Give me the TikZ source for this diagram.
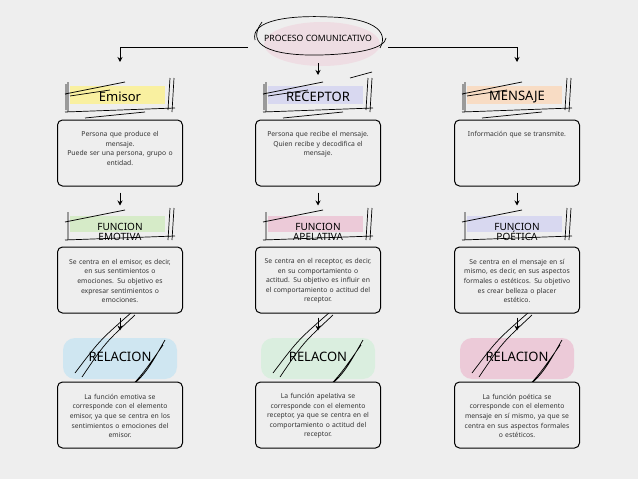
\documentclass[tikz,border=0pt]{standalone}
\usepackage{fontspec}
\setmainfont{Noto Sans}
\usetikzlibrary{arrows.meta}
\definecolor{bg}{HTML}{EEEEEE}
\definecolor{cYel}{HTML}{F9F0A0}
\definecolor{cLav}{HTML}{D8D8F0}
\definecolor{cPea}{HTML}{F8DCC4}
\definecolor{cGrn}{HTML}{D6EBC8}
\definecolor{cPnk}{HTML}{ECCAD8}
\definecolor{cBlu}{HTML}{CFE6F1}
\definecolor{cMnt}{HTML}{DAEEDF}
\definecolor{cTit}{HTML}{EEDDE3}
\tikzset{
 txtbox/.style={draw=black,line width=1pt,rounded corners=5pt,minimum width=125pt,minimum height=66pt,fill=bg},
 txt/.style={font=\fontsize{6.8}{9.6}\selectfont,align=center,text width=122pt,color=black!80},
 head/.style={font=\fontsize{13}{14}\selectfont},
 fhead/.style={font=\fontsize{10}{10.5}\selectfont,align=center},
 arr/.style={line width=0.9pt,-{Stealth[length=5pt,width=5pt]}},
 sk/.style={line width=0.7pt},
}
\begin{document}
\begin{tikzpicture}[x=1pt,y=-1pt]
\fill[bg] (0,0) rectangle (638,479);
\useasboundingbox (0,0) rectangle (638,479);
% title
\fill[cTit] (322,44) ellipse (58 and 22);
\draw[sk] (255,40) .. controls (250,20) and (290,15) .. (330,17) .. controls (370,18) and (390,30) .. (380,48);
\draw[sk] (262,22) .. controls (245,45) and (270,56) .. (320,55) .. controls (360,54) and (385,48) .. (386,38);
\draw[sk] (350,78)--(372,72);
\node[font=\fontsize{8.7}{9}\selectfont] (t) at (318,38) {PROCESO COMUNICATIVO};
\coordinate (tl) at (248,47); \coordinate (tr) at (388,47);
% columns
\foreach \x/\hc/\h/\fc/\f/\rc/\r/\i in {
 120/cYel/Emisor/cGrn/{FUNCION\\EMOTIVA}/cBlu/RELACION/e,
 318/cLav/RECEPTOR/cPnk/{FUNCION\\APELATIVA}/cMnt/RELACON/r,
 517/cPea/MENSAJE/cLav/{FUNCION\\POÉTICA}/cPnk/RELACION/m}{
 \fill[\hc] (\x-50,86) rectangle (\x+45,104);
 \draw[sk] (\x-52,82)--(\x-52,112) (\x-54,84)--(\x-54,110) (\x+50,78)--(\x+48,110) (\x+54,78)--(\x+52,112)
  (\x-55,94)--(\x+5,82) (\x-50,96)--(\x-10,90) (\x-55,112)--(\x+55,108) (\x-35,118)--(\x+25,112);
 \node[head] (h\i) at (\x,97) {\h};
 \fill[\fc] (\x-50,216) rectangle (\x+45,232);
 \draw[sk] (\x-52,212)--(\x-52,240) (\x+50,208)--(\x+48,240) (\x+54,208)--(\x+52,240)
  (\x-55,222)--(\x+5,210) (\x-55,240)--(\x+55,236);
 \node[fhead] (f\i) at (\x,232) {\f};
 \fill[\rc,rounded corners=12pt] (\x-57,338) rectangle (\x+57,379);
 \node[head] (r\i) at (\x,357) {\r};
 \draw[sk] (\x-45,373) .. controls (\x-20,340) .. (\x+12,312) (\x-38,377) .. controls (\x-15,343) .. (\x+15,315)
  (\x-4,400) .. controls (\x+25,375) .. (\x+45,340) (\x-8,405) .. controls (\x+20,378) .. (\x+43,345);
}
\node[txtbox] (be) at (120,153) {}; \node[txt,anchor=north] at (120,128) {Persona que produce el\\mensaje.\\Puede ser una persona, grupo o\\entidad.};
\node[txtbox] (br) at (318,153) {}; \node[txt,anchor=north] at (318,128) {Persona que recibe el mensaje.\\Quien recibe y decodifica el\\mensaje.};
\node[txtbox] (bm) at (517,153) {}; \node[txt,anchor=north] at (517,128) {Información que se transmite.};
\node[txtbox] (ce) at (120,280) {}; \node[txt,anchor=center] at (120,281) {Se centra en el emisor, es decir,\\en sus sentimientos o\\emociones. Su objetivo es\\expresar sentimientos o\\emociones.};
\node[txtbox] (cr) at (318,280) {}; \node[txt,anchor=center] at (318,281) {Se centra en el receptor, es decir,\\en su comportamiento o\\actitud. Su objetivo es influir en\\el comportamiento o actitud del\\receptor.};
\node[txtbox] (cm) at (517,280) {}; \node[txt,anchor=center] at (517,281) {Se centra en el mensaje en sí\\mismo, es decir, en sus aspectos\\formales o estéticos. Su objetivo\\es crear belleza o placer\\estético.};
\node[txtbox] (de) at (120,415) {}; \node[txt,anchor=center] at (120,416) {La función emotiva se\\corresponde con el elemento\\emisor, ya que se centra en los\\sentimientos o emociones del\\emisor.};
\node[txtbox] (dr) at (318,415) {}; \node[txt,anchor=center] at (318,416) {La función apelativa se\\corresponde con el elemento\\receptor, ya que se centra en el\\comportamiento o actitud del\\receptor.};
\node[txtbox] (dm) at (517,415) {}; \node[txt,anchor=center] at (517,416) {La función poética se\\corresponde con el elemento\\mensaje en sí mismo, ya que se\\centra en sus aspectos formales\\o estéticos.};
% arrows
\draw[arr] (tl) -| (120,62);
\draw[arr] (tr) -| (517,62);
\draw[arr] (318,63) -- (318,75);
\foreach \a in {be,br,bm}{\draw[arr] (\a.south) ++(0,6) -- ++(0,13);}
\foreach \a in {ce,cr,cm}{\draw[arr] (\a.south) ++(0,4) -- ++(0,13);}
\end{tikzpicture}
\end{document}
